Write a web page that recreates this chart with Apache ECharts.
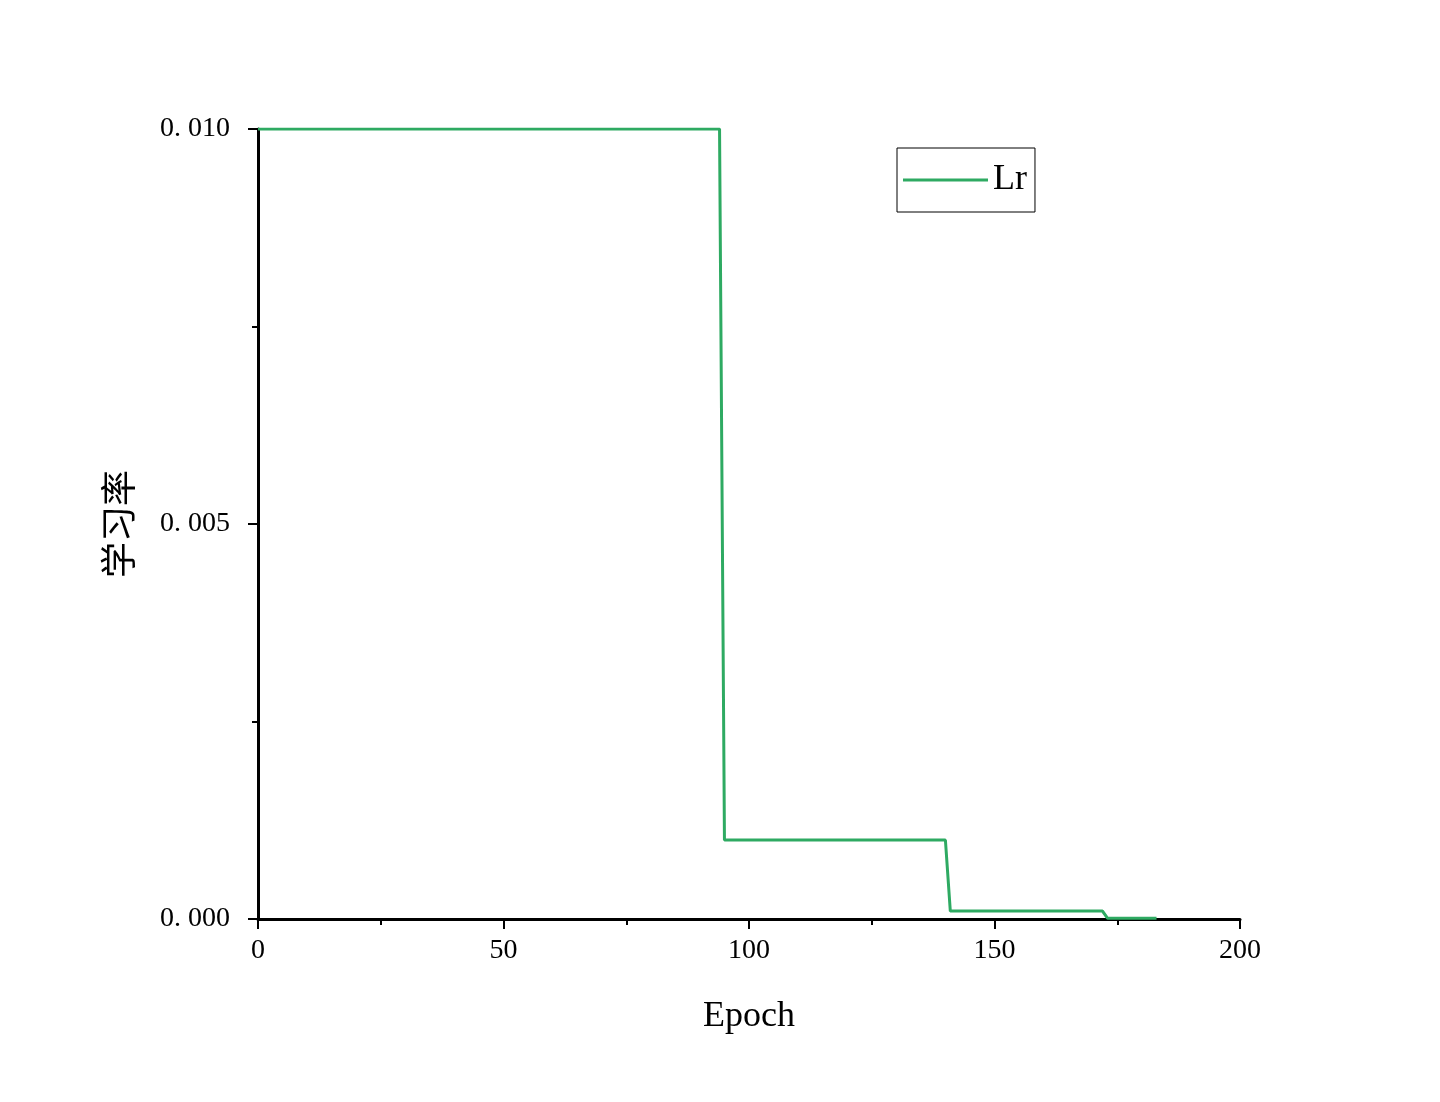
<!DOCTYPE html>
<html><head><meta charset="utf-8">
<script src="https://cdn.jsdelivr.net/npm/echarts@6/dist/echarts.min.js"></script>
<style>html,body{margin:0;background:#fff}#chart{width:1440px;height:1102px}</style>
</head><body><div id="chart"></div>
<script>
var epochs = [0, 94, 95, 140, 141, 172, 173, 183];
var lrValues = [0.01, 0.01, 0.001, 0.001, 0.0001, 0.0001, 0.00001, 0.00001];
var yTicks = [0, 0.005, 0.01];

var chart = echarts.init(document.getElementById('chart'));
var serif = '"Liberation Serif", "Noto Serif CJK SC", serif';
chart.setOption({
  animation: false,
  grid: { left: 258, right: 200, top: 129, bottom: 183 },
  legend: {
    data: ['Lr'], left: 897, top: 148, orient: 'vertical',
    itemWidth: 85, itemHeight: 3, itemGap: 0,
    padding: [14, 8, 14, 6],
    borderColor: '#000', borderWidth: 1,
    textStyle: { fontFamily: serif, fontSize: 36, color: '#000' },
    icon: 'rect'
  },
  xAxis: {
    type: 'value', min: 0, max: 200, interval: 50,
    name: 'Epoch', nameLocation: 'middle', nameGap: 80,
    nameTextStyle: { fontFamily: serif, fontSize: 36, color: '#000' },
    axisLine: { lineStyle: { color: '#000', width: 3 } },
    axisTick: { length: 10, lineStyle: { width: 2 } },
    minorTick: { show: true, splitNumber: 2, length: 6, lineStyle: { color: '#000', width: 2 } },
    axisLabel: { fontFamily: serif, fontSize: 28, color: '#000', margin: 18 },
    splitLine: { show: false }
  },
  yAxis: {
    type: 'value', min: 0, max: 0.01, interval: 0.005,
    name: '学习率', nameLocation: 'middle', nameGap: 122, nameRotate: 90,
    nameTextStyle: { fontFamily: '"Noto Sans CJK SC", sans-serif', fontSize: 36, color: '#000' },
    axisLine: { show: true, lineStyle: { color: '#000', width: 3 } },
    axisTick: { show: true, inside: false, length: 10, lineStyle: { width: 2 } },
    minorTick: { show: true, splitNumber: 2, length: 6, lineStyle: { color: '#000', width: 2 } },
    axisLabel: {
      fontFamily: serif, fontSize: 28, color: '#000', margin: 28,
      formatter: function (v) { return v.toFixed(3).replace('.', '. '); }
    },
    splitLine: { show: false }
  },
  series: [{
    name: 'Lr', type: 'line', showSymbol: false,
    data: epochs.map(function (e, i) { return [e, lrValues[i]]; }),
    lineStyle: { color: '#2eaa62', width: 3 },
    itemStyle: { color: '#2eaa62' }
  }]
});
</script></body></html>
